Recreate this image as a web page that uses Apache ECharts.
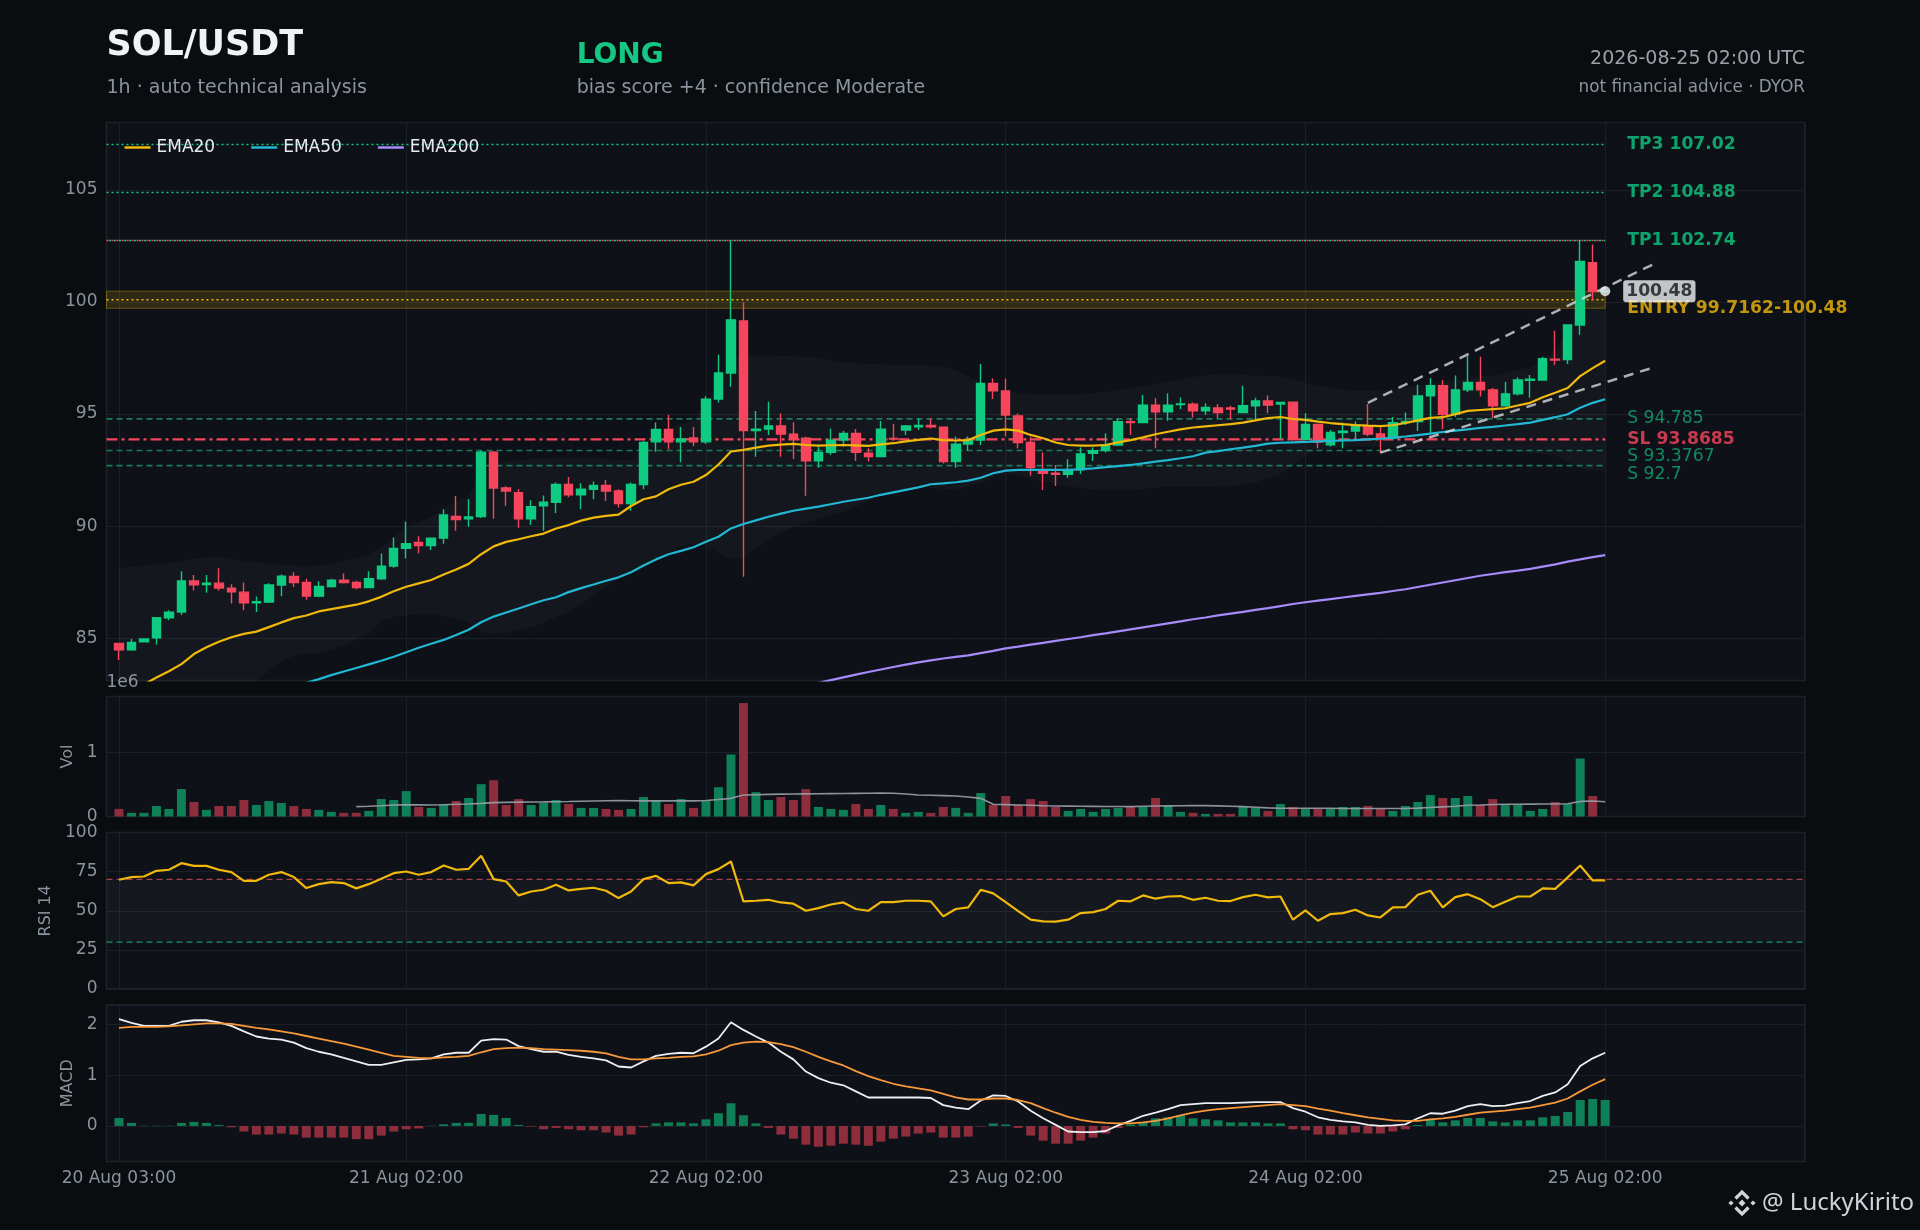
<!doctype html>
<html lang="en">
<head>
<meta charset="utf-8" />
<title>SOL/USDT 1h</title>
<script src="https://cdn.jsdelivr.net/npm/echarts@6/dist/echarts.min.js"></script>
<style>
  html, body { margin: 0; padding: 0; background: #0a0d10; }
  #chart { width: 1920px; height: 1230px; }
</style>
</head>
<body>
<div id="chart"></div>
<script>
    // x ticks (candle index -> label)
    var tickIndex = [0, 23, 47, 71, 95, 119];
    var tickLabels = ['20 Aug 03:00', '21 Aug 02:00', '22 Aug 02:00', '23 Aug 02:00', '24 Aug 02:00', '25 Aug 02:00'];

    // 1h candles, index 0 = 20 Aug 03:00
    var openP = [84.77,84.49,84.85,85.02,85.92,86.17,87.56,87.40,87.46,87.24,
        87.06,86.58,86.62,87.38,87.76,87.49,86.88,87.31,87.59,87.49,
        87.26,87.66,88.22,89.01,89.27,89.14,89.47,90.43,90.33,90.43,
        93.30,91.70,91.49,90.33,90.91,91.07,91.86,91.40,91.65,91.82,
        91.57,91.01,91.86,93.76,94.31,93.76,93.93,93.76,95.67,96.83,
        99.15,94.26,94.33,94.47,94.10,93.92,92.92,93.29,93.84,94.14,
        93.25,93.10,93.91,94.29,94.43,94.49,94.41,92.88,93.66,93.84,
        96.37,96.03,94.92,93.73,92.46,92.36,92.31,92.51,93.25,93.37,
        93.62,94.66,94.62,95.40,95.10,95.42,95.44,95.15,95.27,95.27,
        95.07,95.37,95.58,95.45,95.53,93.88,94.54,93.63,94.18,94.24,
        94.44,94.11,93.93,94.62,94.67,95.81,96.26,94.99,96.08,96.41,
        96.08,95.37,95.90,96.50,96.52,97.45,97.43,98.97,101.75,100.46];
    var closeP = [84.49,84.82,84.97,85.92,86.17,87.56,87.39,87.46,87.24,87.08,
        86.58,86.63,87.38,87.77,87.49,86.88,87.31,87.59,87.49,87.26,
        87.66,88.22,89.01,89.22,89.14,89.47,90.50,90.30,90.41,93.30,
        91.70,91.57,90.33,90.87,91.07,91.86,91.40,91.65,91.82,91.57,
        91.01,91.86,93.73,94.31,93.76,93.89,93.76,95.66,96.83,99.20,
        94.26,94.32,94.47,94.11,93.89,92.92,93.29,93.84,94.14,93.29,
        93.10,94.32,93.89,94.47,94.49,94.43,92.88,93.66,93.84,96.37,
        96.04,94.96,93.73,92.61,92.36,92.31,92.51,93.22,93.37,93.62,
        94.66,94.62,95.40,95.10,95.40,95.45,95.15,95.30,95.07,95.22,
        95.37,95.58,95.40,95.52,93.88,94.54,93.75,94.18,94.24,94.51,
        94.11,93.95,94.62,94.67,95.81,96.26,94.99,96.08,96.41,96.08,
        95.37,95.90,96.52,96.55,97.47,97.41,98.97,101.80,100.46,100.48];
    var lowP = [84.03,84.45,84.83,84.72,85.81,86.04,87.13,87.03,87.13,86.55,
        86.25,86.17,86.57,86.88,87.29,86.72,86.83,87.25,87.44,87.19,
        87.23,87.61,88.15,88.56,88.78,88.94,89.22,89.80,89.97,90.36,
        90.33,90.91,89.93,90.05,89.80,90.59,91.29,90.76,91.20,91.12,
        90.83,90.69,91.65,93.32,93.43,92.85,93.56,93.68,95.51,96.22,
        87.75,93.10,94.07,93.10,93.00,91.36,92.61,93.17,93.54,92.91,
        92.88,93.07,93.84,94.07,94.29,94.36,92.80,92.61,93.36,93.62,
        95.67,94.00,93.47,92.25,91.61,91.79,92.16,92.33,92.91,93.29,
        93.58,94.07,94.59,93.47,94.70,95.21,94.85,94.96,94.82,94.77,
        95.04,94.74,95.04,93.88,93.80,93.85,93.47,93.55,93.47,93.88,
        94.01,93.25,93.85,94.51,94.24,94.16,94.32,94.87,95.98,95.78,
        94.82,95.33,95.83,95.73,96.49,97.19,97.23,98.54,100.08,100.44];
    var highP = [84.77,84.97,85.00,85.92,86.25,87.99,87.82,87.82,88.12,87.41,
        87.49,86.87,87.46,87.85,87.95,87.66,87.54,87.66,87.89,87.57,
        87.99,88.78,89.50,90.21,89.55,89.50,90.76,91.35,91.20,93.38,
        93.35,91.78,91.65,91.16,91.37,91.95,92.19,91.91,91.99,92.06,
        91.65,91.95,93.80,94.62,94.97,94.42,94.42,95.79,97.64,102.74,
        99.99,95.14,95.55,95.03,94.63,93.99,93.54,94.36,94.25,94.33,
        93.47,94.69,94.56,94.51,94.81,94.81,94.42,94.00,94.00,97.23,
        96.59,96.59,95.03,93.99,93.29,92.73,92.98,93.51,93.51,94.14,
        94.81,94.81,95.85,95.70,95.93,95.74,95.52,95.48,95.45,95.37,
        96.26,95.73,95.83,95.52,95.53,95.04,94.57,94.29,94.62,94.67,
        95.45,94.41,94.87,95.07,96.31,96.61,96.52,96.72,97.60,97.55,
        96.16,96.43,96.64,96.74,97.55,98.71,99.00,102.72,102.56,100.50];

    // volume in 1e6
    var volume = [0.118,0.057,0.057,0.164,0.118,0.427,0.226,0.103,0.164,0.164,
        0.257,0.180,0.242,0.211,0.164,0.118,0.103,0.072,0.057,0.057,
        0.087,0.272,0.257,0.396,0.149,0.134,0.195,0.242,0.288,0.504,
        0.565,0.180,0.272,0.180,0.211,0.257,0.195,0.134,0.134,0.118,
        0.103,0.118,0.303,0.257,0.195,0.272,0.134,0.242,0.457,0.966,
        1.768,0.380,0.257,0.303,0.257,0.427,0.149,0.118,0.103,0.195,
        0.118,0.180,0.118,0.057,0.072,0.057,0.149,0.134,0.057,0.365,
        0.180,0.319,0.180,0.272,0.242,0.149,0.087,0.118,0.072,0.118,
        0.134,0.149,0.149,0.288,0.164,0.072,0.057,0.041,0.041,0.041,
        0.149,0.134,0.087,0.195,0.149,0.118,0.118,0.118,0.149,0.149,
        0.164,0.118,0.087,0.164,0.226,0.334,0.288,0.288,0.319,0.180,
        0.272,0.180,0.180,0.087,0.118,0.226,0.195,0.904,0.319,0.000];
    // 20-bar volume average, starts at index 19
    var volMa = [0.154,0.160,0.168,0.180,0.182,0.181,0.180,0.182,0.190,0.195,
        0.205,0.216,0.220,0.224,0.226,0.228,0.231,0.234,0.238,0.242,
        0.245,0.247,0.245,0.244,0.243,0.243,0.244,0.244,0.250,0.265,
        0.283,0.334,0.340,0.345,0.349,0.350,0.352,0.354,0.356,0.358,
        0.360,0.362,0.365,0.362,0.350,0.334,0.330,0.325,0.319,0.305,
        0.283,0.190,0.185,0.180,0.175,0.168,0.164,0.162,0.160,0.158,
        0.156,0.155,0.154,0.160,0.164,0.166,0.168,0.170,0.170,0.166,
        0.160,0.154,0.145,0.135,0.128,0.128,0.128,0.128,0.128,0.125,
        0.125,0.125,0.125,0.125,0.125,0.130,0.140,0.150,0.160,0.175,
        0.180,0.186,0.190,0.192,0.193,0.194,0.195,0.198,0.235,0.242,
        0.231];

    var ema20 = [82.40,82.65,82.95,83.25,83.53,83.85,84.30,84.60,84.85,85.05,
        85.20,85.30,85.50,85.71,85.90,86.02,86.20,86.30,86.40,86.50,
        86.65,86.85,87.10,87.30,87.45,87.60,87.85,88.07,88.32,88.75,
        89.10,89.30,89.42,89.55,89.67,89.90,90.05,90.25,90.38,90.46,
        90.52,90.90,91.20,91.33,91.65,91.85,91.98,92.28,92.75,93.33,
        93.40,93.50,93.59,93.64,93.67,93.62,93.59,93.61,93.62,93.60,
        93.58,93.65,93.70,93.78,93.85,93.91,93.84,93.82,93.84,94.07,
        94.26,94.32,94.26,94.07,93.92,93.73,93.62,93.59,93.59,93.62,
        93.74,93.84,93.96,94.10,94.21,94.32,94.40,94.45,94.50,94.55,
        94.62,94.72,94.82,94.87,94.78,94.74,94.66,94.60,94.55,94.51,
        94.48,94.46,94.50,94.60,94.72,94.83,94.86,95.00,95.14,95.18,
        95.22,95.26,95.38,95.50,95.75,95.95,96.16,96.69,97.05,97.38];
    // starts at index 10
    var ema50 = [82.40,82.52,82.65,82.78,82.90,83.02,83.18,83.36,83.52,83.68,
        83.84,84.00,84.18,84.38,84.58,84.76,84.93,85.15,85.38,85.72,
        85.97,86.15,86.33,86.52,86.70,86.83,87.06,87.24,87.40,87.57,
        87.72,87.95,88.25,88.52,88.75,88.90,89.06,89.31,89.53,89.90,
        90.10,90.26,90.42,90.56,90.69,90.78,90.87,90.98,91.09,91.18,
        91.27,91.40,91.51,91.62,91.73,91.87,91.91,91.96,92.03,92.16,
        92.36,92.48,92.51,92.51,92.51,92.51,92.51,92.54,92.58,92.63,
        92.68,92.73,92.80,92.88,92.95,93.03,93.12,93.28,93.35,93.43,
        93.50,93.58,93.68,93.72,93.74,93.76,93.78,93.80,93.82,93.84,
        93.87,93.90,93.95,94.00,94.06,94.13,94.20,94.26,94.32,94.38,
        94.43,94.49,94.55,94.62,94.74,94.86,94.99,95.28,95.50,95.66];
    // starts at index 50
    var ema200 = [82.30,82.42,82.54,82.66,82.78,82.90,83.02,83.14,83.26,83.38,
        83.50,83.61,83.72,83.83,83.93,84.02,84.10,84.17,84.24,84.34,
        84.44,84.55,84.63,84.72,84.80,84.89,84.97,85.05,85.14,85.22,
        85.31,85.40,85.49,85.58,85.67,85.76,85.85,85.93,86.02,86.10,
        86.18,86.27,86.35,86.44,86.53,86.61,86.68,86.75,86.82,86.89,
        86.96,87.03,87.11,87.19,87.29,87.39,87.49,87.59,87.69,87.79,
        87.87,87.95,88.02,88.10,88.20,88.30,88.42,88.52,88.62,88.71];

    var bbUpper = [88.15,88.20,88.23,88.30,88.38,88.45,88.55,88.62,88.65,88.55,
        88.45,88.40,88.33,88.28,88.25,88.23,88.25,88.32,88.45,88.60,
        88.75,89.05,89.50,89.95,90.20,90.40,90.80,91.10,91.35,92.40,
        92.75,92.90,92.95,93.00,93.00,93.05,93.05,93.05,93.05,93.00,
        92.95,92.95,93.40,93.95,94.35,94.55,94.70,95.50,96.40,97.45,
        97.60,97.62,97.62,97.60,97.58,97.55,97.50,97.40,97.30,97.26,
        97.24,97.22,97.20,97.19,97.19,97.17,97.11,96.95,96.70,96.45,
        96.20,96.00,95.92,95.88,95.86,95.85,95.86,95.90,95.95,96.00,
        96.07,96.15,96.25,96.35,96.45,96.55,96.65,96.72,96.77,96.77,
        96.75,96.72,96.70,96.69,96.55,96.40,96.28,96.18,96.10,96.05,
        96.03,96.05,96.12,96.19,96.27,96.35,96.44,96.52,96.58,96.66,
        96.72,96.82,96.95,97.10,97.40,97.85,98.65,99.45,99.75,99.85];
    var bbLower = [81.90,81.90,81.95,82.00,82.10,82.20,82.30,82.40,82.50,82.70,
        82.90,83.10,83.60,84.00,84.20,84.30,84.36,84.50,84.69,84.95,
        85.26,85.76,85.95,86.02,86.06,86.09,86.00,85.85,85.70,85.30,
        85.18,85.25,85.35,85.50,85.70,85.95,86.17,86.50,86.90,87.30,
        87.65,88.00,88.30,88.55,88.80,89.10,89.25,89.15,88.80,88.50,
        88.60,89.05,89.40,89.70,89.95,90.15,90.35,90.45,90.65,90.87,
        91.10,91.35,91.50,91.65,91.76,91.72,91.65,91.62,91.75,91.95,
        92.20,92.36,92.25,92.10,92.00,91.90,91.78,91.70,91.65,91.62,
        91.61,91.62,91.66,91.72,91.76,91.76,91.75,91.74,91.76,91.80,
        91.85,91.95,92.15,92.35,92.70,93.15,93.35,93.45,93.52,93.55,
        93.55,93.53,93.50,93.48,93.47,93.47,93.47,93.45,93.42,93.40,
        93.37,93.34,93.31,93.28,93.22,93.14,92.90,92.56,92.48,92.43];

    var rsi = [69.8,71.5,71.9,75.5,76.2,80.4,78.7,78.7,76.2,74.7,
        69.1,69.1,73.0,74.7,71.5,64.5,67.0,68.3,67.7,64.3,
        67.0,70.4,74.0,75.1,73.0,74.7,78.9,76.2,76.8,85.1,
        70.2,68.7,59.8,62.3,63.4,66.6,63.0,64.0,64.7,62.8,
        58.1,62.3,70.2,72.3,67.7,68.1,66.2,73.4,76.6,81.5,
        56.0,56.4,57.0,55.3,54.5,50.0,51.7,54.0,55.3,51.1,
        50.0,55.5,55.5,56.4,56.4,56.0,46.4,51.1,52.1,63.4,
        61.1,55.5,49.8,44.3,43.2,43.0,44.3,48.5,49.1,51.1,
        56.4,56.0,59.8,57.7,59.1,59.4,57.0,58.3,56.4,56.2,
        58.7,60.2,58.5,59.1,44.3,50.2,43.6,47.9,48.5,50.6,
        47.0,45.7,52.1,52.3,60.2,62.8,52.1,58.7,60.6,57.4,
        52.3,55.7,59.1,59.1,64.3,64.0,71.3,78.9,69.4,69.4];

    var macd = [2.10,2.03,1.97,1.97,1.97,2.05,2.08,2.08,2.04,1.97,
        1.86,1.76,1.72,1.70,1.64,1.53,1.46,1.41,1.34,1.27,
        1.20,1.20,1.25,1.30,1.31,1.33,1.41,1.44,1.44,1.68,
        1.71,1.70,1.57,1.51,1.46,1.46,1.40,1.36,1.33,1.29,
        1.17,1.15,1.27,1.38,1.42,1.44,1.43,1.56,1.72,2.04,
        1.89,1.76,1.64,1.46,1.31,1.07,0.94,0.85,0.80,0.68,
        0.56,0.56,0.56,0.56,0.56,0.55,0.41,0.36,0.33,0.50,
        0.60,0.59,0.48,0.30,0.15,0.02,-0.11,-0.12,-0.12,-0.10,
        0.01,0.10,0.20,0.26,0.33,0.41,0.43,0.45,0.45,0.45,
        0.46,0.47,0.47,0.47,0.35,0.28,0.17,0.12,0.09,0.07,
        0.02,0.00,0.01,0.03,0.15,0.25,0.24,0.30,0.39,0.43,
        0.39,0.40,0.45,0.49,0.59,0.66,0.82,1.18,1.33,1.44];
    var signal = [1.93,1.95,1.95,1.95,1.96,1.98,2.00,2.02,2.02,2.01,
        1.97,1.93,1.90,1.86,1.82,1.77,1.72,1.67,1.62,1.56,
        1.50,1.44,1.38,1.36,1.34,1.33,1.35,1.36,1.38,1.45,
        1.51,1.53,1.54,1.53,1.51,1.50,1.49,1.48,1.46,1.43,
        1.36,1.31,1.31,1.33,1.34,1.36,1.37,1.41,1.48,1.59,
        1.64,1.66,1.65,1.61,1.55,1.46,1.36,1.27,1.19,1.08,
        0.98,0.90,0.83,0.78,0.74,0.70,0.63,0.56,0.52,0.52,
        0.54,0.54,0.51,0.45,0.35,0.26,0.18,0.12,0.08,0.06,
        0.05,0.05,0.07,0.10,0.15,0.21,0.26,0.30,0.33,0.35,
        0.37,0.39,0.41,0.43,0.41,0.39,0.34,0.30,0.25,0.21,
        0.17,0.14,0.11,0.10,0.10,0.13,0.15,0.18,0.22,0.26,
        0.28,0.30,0.33,0.36,0.41,0.46,0.54,0.68,0.81,0.92];
    var hist = [0.157,0.059,0.005,0.005,0.005,0.059,0.079,0.059,0.020,-0.026,
        -0.11,-0.17,-0.17,-0.15,-0.17,-0.23,-0.23,-0.23,-0.23,-0.26,
        -0.26,-0.19,-0.11,-0.066,-0.05,0.005,0.033,0.06,0.06,0.236,
        0.216,0.157,0.02,-0.013,-0.066,-0.04,-0.066,-0.085,-0.085,-0.13,
        -0.19,-0.17,-0.026,0.05,0.07,0.07,0.05,0.13,0.25,0.446,
        0.21,0.05,-0.04,-0.17,-0.25,-0.37,-0.41,-0.39,-0.35,-0.37,
        -0.39,-0.31,-0.25,-0.21,-0.15,-0.13,-0.23,-0.23,-0.21,-0.01,
        0.05,0.03,-0.04,-0.19,-0.29,-0.35,-0.35,-0.29,-0.23,-0.15,
        -0.04,0.03,0.07,0.15,0.17,0.21,0.15,0.13,0.11,0.07,
        0.07,0.07,0.05,0.05,-0.066,-0.085,-0.17,-0.17,-0.17,-0.13,
        -0.15,-0.15,-0.11,-0.066,0.02,0.12,0.07,0.11,0.157,0.157,
        0.09,0.07,0.11,0.11,0.17,0.197,0.275,0.51,0.53,0.51];

    // trade plan levels
    var tpValues = [102.74, 104.88, 107.02];
    var supportValues = [94.785, 93.3767, 92.7];
    var stopLoss = 93.8685;
    var entryZone = [99.7162, 100.48];
    var lastPrice = 100.48;
    var lastIndex = 119;
    // channel lines [candle index, price]
    var trendUpper = [[100, 95.5], [123, 101.72]];
    var trendLower = [[101, 93.28], [123, 97.1]];

    var C = {
        panel: '#0e1117', border: '#1f242c', grid: '#1b2028', text: '#8b949e',
        up: '#0ecb81', down: '#f6465d', volUp: '#0f7f57', volDown: '#8e2d3c',
        yellow: '#f0b90b', cyan: '#22b8d4', purple: '#a78bfa', sLine: '#1b7a5a', sText: '#17a673'
    };

    // category axis runs from index -1 to 135
    var xCats = [];
    for (var k = -1; k <= 135; k++) { xCats.push(String(k)); }
    function at(i) { return i + 1; }
    function xy(arr, start) {
        return arr.map(function (v, j) { return [at(j + (start || 0)), v]; });
    }
    var levelEnd = at(lastIndex);
    var labelAt = at(lastIndex + 1);

    function isTick(idx, val) { return tickIndex.indexOf(+val) >= 0; }

    function xAx(gi, showLabel) {
        return {
            type: 'category', gridIndex: gi, data: xCats, boundaryGap: false,
            axisLine: { show: false }, axisTick: { show: false },
            axisLabel: {
                show: showLabel, interval: isTick, color: C.text, fontSize: 17, margin: 9,
                formatter: function (val) {
                    var p = tickIndex.indexOf(+val);
                    return p >= 0 ? tickLabels[p] : '';
                }
            },
            splitLine: { show: true, interval: isTick, lineStyle: { color: C.grid, width: 1 } }
        };
    }

    function yAx(gi, opt) {
        var base = {
            type: 'value', gridIndex: gi, scale: true, position: 'left',
            axisLine: { show: false }, axisTick: { show: false },
            axisLabel: { color: C.text, fontSize: 17, margin: 9 },
            splitLine: { show: true, lineStyle: { color: C.grid, width: 1 } },
            nameTextStyle: { color: C.text, fontSize: 16 }
        };
        for (var key in opt) {
            if (key === 'axisLabel' || key === 'nameTextStyle') {
                base[key] = Object.assign({}, base[key], opt[key]);
            } else {
                base[key] = opt[key];
            }
        }
        return base;
    }

    function gridBox(top, height) {
        return { left: 106.5, right: 115, top: top, height: height, show: true,
            backgroundColor: C.panel, borderColor: C.border, borderWidth: 1.5 };
    }

    function levelLine(value, style, z) {
        return { type: 'line', xAxisIndex: 0, yAxisIndex: 0, silent: true, symbol: 'none',
            z: z || 1, data: [[0, value], [levelEnd, value]], lineStyle: style };
    }

    var candles = openP.map(function (o, i) { return [at(i), o, closeP[i], lowP[i], highP[i]]; });
    var volBars = volume.map(function (v, i) {
        return { value: [at(i), v], itemStyle: { color: closeP[i] >= openP[i] ? C.volUp : C.volDown } };
    });
    var histBars = hist.map(function (v, i) {
        return { value: [at(i), v], itemStyle: { color: v >= 0 ? C.volUp : C.volDown } };
    });
    var bbWidth = bbUpper.map(function (u, i) { return +(u - bbLower[i]).toFixed(3); });

    // right hand labels
    var labelItems = [];
    tpValues.forEach(function (v, j) {
        labelItems.push({ name: 'TP' + (j + 1) + ' ' + v, value: [labelAt, v],
            label: { color: C.up, fontWeight: 'bold' } });
    });
    labelItems.push({ name: 'ENTRY ' + entryZone[0] + '-' + entryZone[1], value: [labelAt, entryZone[0]],
        label: { color: C.yellow, fontWeight: 'bold' } });
    var sOffsets = [0, 6.3, 8.5];
    supportValues.forEach(function (v, j) {
        labelItems.push({ name: 'S ' + v, value: [labelAt, v],
            label: { color: C.sText, fontWeight: 'normal', offset: [0, sOffsets[j]] } });
    });
    labelItems.push({ name: 'SL ' + stopLoss, value: [labelAt, stopLoss],
        label: { color: C.down, fontWeight: 'bold' } });

    var series = [
        // bollinger band
        { name: 'bbLow', type: 'line', xAxisIndex: 0, yAxisIndex: 0, stack: 'bb', data: xy(bbLower),
            symbol: 'none', silent: true, z: 1, lineStyle: { opacity: 0 } },
        { name: 'bbFill', type: 'line', xAxisIndex: 0, yAxisIndex: 0, stack: 'bb', data: xy(bbWidth),
            symbol: 'none', silent: true, z: 1, lineStyle: { opacity: 0 },
            areaStyle: { color: 'rgba(255,255,255,0.04)' } },
        // entry zone
        { name: 'entry', type: 'line', xAxisIndex: 0, yAxisIndex: 0, silent: true, symbol: 'none', z: 1,
            data: [[0, (entryZone[0] + entryZone[1]) / 2], [levelEnd, (entryZone[0] + entryZone[1]) / 2]],
            lineStyle: { color: C.yellow, type: [2, 3], width: 1.5 },
            markArea: { silent: true, itemStyle: { color: 'rgba(240,185,11,0.15)',
                borderColor: 'rgba(240,185,11,0.35)', borderWidth: 1 },
                data: [[{ coord: [0, entryZone[0]] }, { coord: [levelEnd, entryZone[1]] }]] } },
        levelLine(tpValues[0], { color: C.down, type: [2, 3], width: 1.6 }, 1),
        levelLine(tpValues[0], { color: C.up, type: [2, 3], dashOffset: 2.5, width: 1.6 }, 1),
        levelLine(tpValues[1], { color: C.up, type: [2, 3], width: 1.6 }, 1),
        levelLine(tpValues[2], { color: C.up, type: [2, 3], width: 1.6 }, 1),
        levelLine(supportValues[0], { color: C.sLine, type: [6, 4], width: 1.6 }, 1),
        levelLine(supportValues[1], { color: C.sLine, type: [6, 4], width: 1.6 }, 1),
        levelLine(supportValues[2], { color: C.sLine, type: [6, 4], width: 1.6 }, 1),
        levelLine(stopLoss, { color: C.down, type: [11, 4, 3, 4], width: 2.2 }, 1),
        // candles
        { name: 'SOL/USDT', type: 'candlestick', xAxisIndex: 0, yAxisIndex: 0, data: candles,
            encode: { x: 0, y: [1, 2, 3, 4] }, barWidth: 9, z: 3,
            itemStyle: { color: C.up, color0: C.down, borderColor: C.up, borderColor0: C.down, borderWidth: 1.4 } },
        { name: 'EMA20', type: 'line', xAxisIndex: 0, yAxisIndex: 0, data: xy(ema20), symbol: 'none', z: 4,
            color: C.yellow, lineStyle: { color: C.yellow, width: 2.2 } },
        { name: 'EMA50', type: 'line', xAxisIndex: 0, yAxisIndex: 0, data: xy(ema50, 10), symbol: 'none', z: 4,
            color: C.cyan, lineStyle: { color: C.cyan, width: 2.2 } },
        { name: 'EMA200', type: 'line', xAxisIndex: 0, yAxisIndex: 0, data: xy(ema200, 50), symbol: 'none', z: 4,
            color: C.purple, lineStyle: { color: C.purple, width: 2.2 } },
        { name: 'trendUp', type: 'line', xAxisIndex: 0, yAxisIndex: 0, silent: true, symbol: 'none', z: 5,
            data: trendUpper.map(function (p) { return [at(p[0]), p[1]]; }),
            lineStyle: { color: 'rgba(225,228,232,0.75)', type: [10, 7], width: 2.5 } },
        { name: 'trendLow', type: 'line', xAxisIndex: 0, yAxisIndex: 0, silent: true, symbol: 'none', z: 5,
            data: trendLower.map(function (p) { return [at(p[0]), p[1]]; }),
            lineStyle: { color: 'rgba(225,228,232,0.75)', type: [10, 7], width: 2.5 } },
        { name: 'levelLabels', type: 'scatter', xAxisIndex: 0, yAxisIndex: 0, silent: true, z: 6,
            symbol: 'circle', symbolSize: 1, itemStyle: { color: 'transparent' }, data: labelItems,
            label: { show: true, position: 'right', distance: 9, fontSize: 17.2,
                formatter: function (p) { return p.name; } } },
        { name: 'lastPrice', type: 'scatter', xAxisIndex: 0, yAxisIndex: 0, silent: true, z: 6,
            symbol: 'circle', symbolSize: 10, itemStyle: { color: '#f2f3f5' },
            data: [{ name: String(lastPrice), value: [at(lastIndex), lastPrice] }],
            label: { show: true, position: 'right', distance: 13, fontSize: 17.2, fontWeight: 'bold',
                color: '#111418', backgroundColor: '#f0f2f5', borderRadius: 3, padding: [3, 3, 2, 3],
                formatter: function (p) { return p.name; } } },
        // volume
        { name: 'Vol', type: 'bar', xAxisIndex: 1, yAxisIndex: 1, data: volBars, barWidth: 9, z: 2 },
        { name: 'VolMA', type: 'line', xAxisIndex: 1, yAxisIndex: 1, data: xy(volMa, 19), symbol: 'none', z: 3,
            lineStyle: { color: '#9aa0a8', width: 1.6, opacity: 0.9 } },
        // rsi
        { name: 'RSI', type: 'line', xAxisIndex: 2, yAxisIndex: 2, data: xy(rsi), symbol: 'none', z: 3,
            lineStyle: { color: C.yellow, width: 2.2 },
            markArea: { silent: true, itemStyle: { color: 'rgba(255,255,255,0.03)' },
                data: [[{ yAxis: 30 }, { yAxis: 70 }]] } },
        { name: 'rsi70', type: 'line', xAxisIndex: 2, yAxisIndex: 2, silent: true, symbol: 'none', z: 2,
            data: [[0, 70], [xCats.length - 1, 70]], lineStyle: { color: '#a8404e', type: [6, 4], width: 1.3 } },
        { name: 'rsi30', type: 'line', xAxisIndex: 2, yAxisIndex: 2, silent: true, symbol: 'none', z: 2,
            data: [[0, 30], [xCats.length - 1, 30]], lineStyle: { color: '#16956a', type: [6, 4], width: 1.3 } },
        // macd
        { name: 'hist', type: 'bar', xAxisIndex: 3, yAxisIndex: 3, data: histBars, barWidth: 9, z: 2 },
        { name: 'MACD', type: 'line', xAxisIndex: 3, yAxisIndex: 3, data: xy(macd), symbol: 'none', z: 3,
            lineStyle: { color: '#eceef1', width: 1.8 } },
        { name: 'Signal', type: 'line', xAxisIndex: 3, yAxisIndex: 3, data: xy(signal), symbol: 'none', z: 3,
            lineStyle: { color: '#f7993a', width: 1.8 } }
    ];

    var wm = '#d0d4da';
    function txt(x, y, text, fill, font, align) {
        return { type: 'text', x: x, y: y, style: { text: text, fill: fill, font: font,
            textAlign: align, textVerticalAlign: 'middle', align: align, verticalAlign: 'middle' } };
    }
    var graphics = [
        txt(106.5, 45.5, 'SOL/USDT', '#f0f2f5', 'bold 35px "DejaVu Sans"', 'left'),
        txt(106.5, 88, '1h \u00b7 auto technical analysis', C.text, '19px "DejaVu Sans"', 'left'),
        txt(576.7, 55.8, 'LONG', '#16c784', 'bold 28px "DejaVu Sans"', 'left'),
        txt(576.7, 88, 'bias score +4 \u00b7 confidence Moderate', C.text, '19px "DejaVu Sans"', 'left'),
        txt(1805, 59.5, '2026-08-25 02:00 UTC', '#9ba1a8', '19px "DejaVu Sans"', 'right'),
        txt(1805, 87.7, 'not financial advice \u00b7 DYOR', C.text, '16.8px "DejaVu Sans"', 'right'),
        // watermark
        { type: 'polyline', shape: { points: [[1735.5, 1198.5], [1742, 1192], [1748.5, 1198.5]] },
            style: { stroke: wm, lineWidth: 3.2, fill: null } },
        { type: 'polyline', shape: { points: [[1735.5, 1207.5], [1742, 1214], [1748.5, 1207.5]] },
            style: { stroke: wm, lineWidth: 3.2, fill: null } },
        { type: 'polygon', shape: { points: [[1742, 1199.5], [1745.5, 1203], [1742, 1206.5], [1738.5, 1203]] },
            style: { fill: wm } },
        { type: 'polygon', shape: { points: [[1731, 1200.4], [1733.6, 1203], [1731, 1205.6], [1728.4, 1203]] },
            style: { fill: wm } },
        { type: 'polygon', shape: { points: [[1753, 1200.4], [1755.6, 1203], [1753, 1205.6], [1750.4, 1203]] },
            style: { fill: wm } },
        txt(1762, 1203, '@ LuckyKirito', wm, '24px "Noto Sans"', 'left')
    ];

    var option = {
        backgroundColor: '#0a0d10',
        animation: false,
        textStyle: { fontFamily: 'DejaVu Sans' },
        legend: {
            data: ['EMA20', 'EMA50', 'EMA200'], left: 119.5, top: 134, icon: 'rect',
            itemWidth: 26, itemHeight: 2.5, itemGap: 36,
            textStyle: { color: '#e6e9ee', fontSize: 17, padding: [0, 0, 0, 1] }
        },
        grid: [gridBox(122.5, 558), gridBox(696.5, 120), gridBox(832.5, 156.5), gridBox(1005, 156.5)],
        xAxis: [xAx(0, false), xAx(1, false), xAx(2, false), xAx(3, true)],
        yAxis: [
            yAx(0, { min: 83.12, max: 108.0, splitNumber: 5,
                axisLabel: { showMinLabel: false, showMaxLabel: false } }),
            yAx(1, { min: 0, max: 1.87, interval: 1, name: '1e6', nameLocation: 'end', nameGap: 13.5,
                axisLabel: { showMaxLabel: false },
                nameTextStyle: { align: 'left', verticalAlign: 'middle', fontSize: 17 } }),
            yAx(2, { min: 0, max: 100, interval: 25, name: 'RSI 14', nameLocation: 'middle', nameRotate: 90, nameGap: 53 }),
            yAx(3, { min: -0.70, max: 2.38, splitNumber: 3, name: 'MACD', nameLocation: 'middle', nameRotate: 90, nameGap: 31,
                axisLabel: { showMinLabel: false, showMaxLabel: false } }),
            // second left axis on the volume panel, only for its side name
            yAx(1, { min: 0, max: 1.87, interval: 1, name: 'Vol', nameLocation: 'middle', nameRotate: 90,
                nameGap: 31, axisLabel: { show: false }, splitLine: { show: false } })
        ],
        graphic: graphics,
        series: series
    };

    var chart = echarts.init(document.getElementById('chart'));
    chart.setOption(option);
</script>
</body>
</html>
